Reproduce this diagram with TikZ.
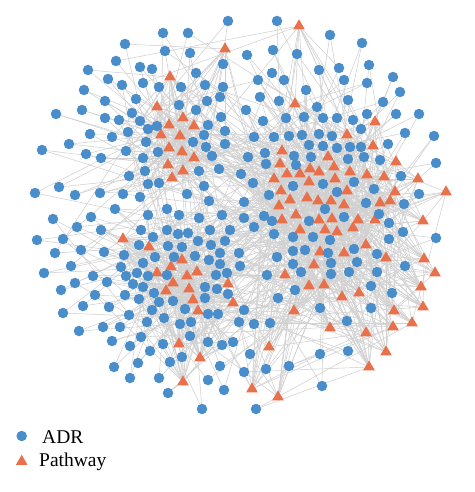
\documentclass[tikz,border=0pt]{standalone}
\usepackage{fontspec}
\setmainfont{Liberation Serif}
\usetikzlibrary{shapes.geometric, backgrounds}
\definecolor{adrblue}{HTML}{4A8DCB}
\definecolor{pwred}{HTML}{E8704A}
\definecolor{linkgray}{HTML}{D0D0D0}
% node positions, in pixels from the top left corner
\newcommand*{\adrlist}{228/21,163/33,188/33,125/44,165/51,190/53,116/61,223/64,140/67,152/69,88/70,196/73,108/79,143/83,159/87,181/87,205/85,223/87,122/85,84/90,136/99,105/101,220/97,207/101,179/105,196/110,82/110,56/114,132/113,105/118,119/120,140/121,221/117,157/126,208/125,148/129,128/132,90/134,112/137,225/131,204/135,
42/150,69/144,86/154,101/158,126/151,143/158,146/142,158/152,193/142,206/147,212/156,225/144,219/169,199/171,145/171,129/176,148/184,159/183,204/186,35/193,59/187,75/195,100/193,123/194,140/197,187/194,209/201,115/209,167/209,179/215,199/218,222/215,53/219,91/217,148/215,77/227,101/230,141/230,167/230,178/234,188/233,210/230,230/230,37/240,63/239,153/237,198/241,225/241,139/245,168/246,182/247,211/245,55/253,81/250,104/252,124/255,155/257,174/257,195/256,220/253,71/266,121/267,143/263,209/260,220/264,44/273,93/276,126/276,137/273,148/276,167/275,216/275,227/273,
277/21,330/35,362/43,247/55,273/50,297/54,369/65,319/70,339/68,393/77,258/80,272/73,284/80,344/80,367/83,306/90,400/92,260/97,279/101,348/100,383/102,246/110,317/107,286/118,304/117,323/118,337/118,353/120,367/114,396/114,419/114,263/121,361/129,405/133,434/136,254/137,274/137,289/136,302/135,319/134,332/136,
309/145,323/146,337/148,350/147,361/147,388/144,248/157,265/153,294/156,311/157,348/159,364/157,380/160,266/164,296/165,436/163,241/174,401/176,253/183,293/186,323/184,354/182,374/189,419/194,269/195,337/192,244/202,366/203,404/204,325/209,379/214,264/216,272/221,309/221,344/217,244/218,389/223,254/227,403/232,274/234,293/237,313/237,330/240,389/239,436/238,293/251,305/250,328/253,354/249,239/253,277/257,377/254,293/264,331/263,357/262,405/266,240/266,267/275,301/272,331/274,349/272,377/272,
61/290,75/283,107/282,95/295,83/306,63/313,125/295,133/284,143/287,154/293,139/299,109/307,159/302,173/301,152/310,185/309,129/315,164/318,147/322,79/331,103/327,120/327,180/324,191/322,205/287,217/289,228/294,205/298,208/314,218/314,190/336,141/337,112/341,130/346,163/344,208/342,222/345,233/342,150/351,182/357,138/363,170/362,114/367,220/366,130/378,159/378,208/380,168/393,224/390,202/409,
295/290,278/298,320/308,371/286,392/293,371/308,244/310,239/322,254/324,270/323,347/321,250/354,266/369,289/366,320/354,348/351,244/372,322/386,256/409}
% 1-14 upper left, 15-31 lower left, 32-100 right
\newcommand*{\pwlist}{225/49,170/77,157/107,183/118,169/125,194/126,161/135,180/136,169/148,182/152,194/158,168/165,183/171,172/178,
123/239,149/247,182/260,171/267,197/272,187/276,157/273,173/283,166/291,189/289,193/300,198/311,228/284,233/303,179/344,200/358,183/382,
299/26,295/104,375/122,347/135,282/151,328/157,280/164,373/146,396/162,310/169,319/172,334/167,287/174,300/174,350/172,367/175,274/179,335/179,384/177,418/179,309/182,281/191,347/191,395/192,446/192,290/200,307/198,318/201,331/201,344/205,380/203,390/201,279/206,296/215,282/220,319/220,332/219,358/220,375/220,423/221,300/230,325/230,337/232,353/228,366/245,320/252,344/253,386/258,424/259,314/265,435/273,285/275,
309/286,324/285,342/297,359/293,421/287,423/307,294/311,394/311,330/328,393/327,412/323,366/333,269/347,386/352,369/367,252/389,278/397}

\begin{document}
\begin{tikzpicture}[x=1pt,y=-1pt,
    adr/.style={circle,fill=adrblue,minimum size=10.5pt,inner sep=0pt},
    pathway/.style={regular polygon,regular polygon sides=3,fill=pwred,minimum size=13.5pt,inner sep=0pt},
    link/.style={draw=linkgray,line width=0.55pt},
    keytext/.style={anchor=base west,inner sep=0pt,font=\fontsize{19.5}{22}\selectfont}]
  \useasboundingbox (0,0) rectangle (474,492);
  \pgfmathsetseed{12}

  \foreach \x/\y [count=\i] in \pwlist
    \node[pathway] (p\i) at (\x,\y) {};
  \foreach \x/\y [count=\i] in \adrlist
    \node[adr] (a\i) at (\x,\y) {};

  % links go behind the nodes
  \begin{scope}[on background layer]
    \foreach \x/\y [count=\i] in \adrlist {
      \ifdim\x pt<240pt
        \ifdim\y pt<200pt \def\clo{1}\def\cn{14}\else \def\clo{15}\def\cn{17}\fi
      \else \def\clo{32}\def\cn{69}\fi
      \pgfmathtruncatemacro\ta{\clo+random(\cn)-1}
      \pgfmathtruncatemacro\tb{random(100)}
      \draw[link] (a\i) -- (p\ta);
      \draw[link] (a\i) -- (p\tb);
      % inner nodes get more links than the rim
      \pgfmathtruncatemacro\rim{veclen((\x-240)/205,(\y-215)/195)>0.72}
      \ifnum\rim=0
        \pgfmathtruncatemacro\tc{\clo+random(\cn)-1}
        \pgfmathtruncatemacro\td{\clo+random(\cn)-1}
        \draw[link] (a\i) -- (p\tc);
        \draw[link] (a\i) -- (p\td);
      \fi
    }
    % pathway to pathway
    \foreach \x/\y [count=\i] in \pwlist {
      \ifnum\i<15 \def\clo{1}\def\cn{14}\else
        \ifnum\i<32 \def\clo{15}\def\cn{17}\else \def\clo{32}\def\cn{69}\fi\fi
      \pgfmathtruncatemacro\ta{\clo+random(\cn)-1}
      \pgfmathtruncatemacro\tb{\clo+random(\cn)-1}
      \pgfmathtruncatemacro\tc{random(100)}
      \draw[link] (p\i) -- (p\ta);
      \draw[link] (p\i) -- (p\tb);
      \draw[link] (p\i) -- (p\tc);
    }
  \end{scope}

  % legend
  \node[adr] (keyadr) at (21.7,436) {};
  \node[keytext] (keyadrtext) at (42,443.5) {ADR};
  \node[pathway] (keypw) at (21.7,461.5) {};
  \node[keytext] (keypwtext) at (39,466.5) {Pathway};
\end{tikzpicture}
\end{document}
